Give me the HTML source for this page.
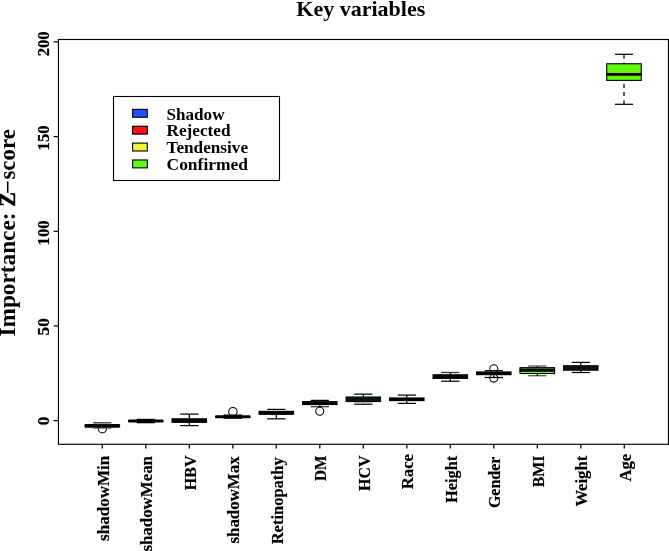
<!DOCTYPE html>
<html lang="en"><head><meta charset="utf-8"><title>Key variables</title>
<style>html,body{margin:0;padding:0;background:#fff}svg{display:block}</style></head>
<body>
<svg width="669" height="551" viewBox="0 0 669 551" font-family="'Liberation Serif', 'Times New Roman', Times, serif" font-weight="bold" fill="#000">
<rect x="0" y="0" width="669" height="551" fill="#fff"/>
<text x="360.8" y="15.5" font-size="22" text-anchor="middle">Key variables</text>
<text transform="translate(15.2,0) rotate(-90)" font-size="22.6"><tspan x="-336.5" textLength="124" lengthAdjust="spacingAndGlyphs">Importance:</tspan> <tspan x="-206.8" textLength="14.7" lengthAdjust="spacingAndGlyphs" stroke="#000" stroke-width="0.4">Z</tspan><tspan x="-194.05" textLength="14" lengthAdjust="spacingAndGlyphs">−</tspan><tspan x="-179.6" textLength="50.5" lengthAdjust="spacingAndGlyphs">score</tspan></text>
<rect x="58.45" y="39.5" width="610.0" height="404.8" fill="none" stroke="#000" stroke-width="1.15"/>
<line x1="53.6" x2="58.45" y1="420.6" y2="420.6" stroke="#000" stroke-width="1.2"/>
<text transform="translate(48.9,421.0) rotate(-90)" font-size="17.3" text-anchor="middle" textLength="8.6" lengthAdjust="spacingAndGlyphs" stroke="#000" stroke-width="0.25">0</text>
<line x1="53.6" x2="58.45" y1="325.9" y2="325.9" stroke="#000" stroke-width="1.2"/>
<text transform="translate(48.9,326.8) rotate(-90)" font-size="17.3" text-anchor="middle" textLength="17.2" lengthAdjust="spacingAndGlyphs" stroke="#000" stroke-width="0.25">50</text>
<line x1="53.6" x2="58.45" y1="231.3" y2="231.3" stroke="#000" stroke-width="1.2"/>
<text transform="translate(48.9,232.9) rotate(-90)" font-size="17.3" text-anchor="middle" textLength="25.0" lengthAdjust="spacingAndGlyphs" stroke="#000" stroke-width="0.25">100</text>
<line x1="53.6" x2="58.45" y1="136.6" y2="136.6" stroke="#000" stroke-width="1.2"/>
<text transform="translate(48.9,137.9) rotate(-90)" font-size="17.3" text-anchor="middle" textLength="25.0" lengthAdjust="spacingAndGlyphs" stroke="#000" stroke-width="0.25">150</text>
<line x1="53.6" x2="58.45" y1="41.9" y2="41.9" stroke="#000" stroke-width="1.2"/>
<text transform="translate(48.9,43.8) rotate(-90)" font-size="17.3" text-anchor="middle" textLength="25.0" lengthAdjust="spacingAndGlyphs" stroke="#000" stroke-width="0.25">200</text>
<line x1="102.3" x2="102.3" y1="444.3" y2="448.6" stroke="#000" stroke-width="1.25"/>
<text transform="translate(108.9,455.8) rotate(-90)" font-size="17.3" text-anchor="end" textLength="85.1" lengthAdjust="spacingAndGlyphs" stroke="#000" stroke-width="0.2">shadowMin</text>
<line x1="145.8" x2="145.8" y1="444.3" y2="448.6" stroke="#000" stroke-width="1.25"/>
<text transform="translate(152.4,456.0) rotate(-90)" font-size="17.3" text-anchor="end" textLength="95.6" lengthAdjust="spacingAndGlyphs" stroke="#000" stroke-width="0.2">shadowMean</text>
<line x1="189.3" x2="189.3" y1="444.3" y2="448.6" stroke="#000" stroke-width="1.25"/>
<text transform="translate(195.9,455.5) rotate(-90)" font-size="17.6" text-anchor="end" textLength="34.7" lengthAdjust="spacingAndGlyphs" stroke="#000" stroke-width="0.2">HBV</text>
<line x1="232.8" x2="232.8" y1="444.3" y2="448.6" stroke="#000" stroke-width="1.25"/>
<text transform="translate(239.4,456.4) rotate(-90)" font-size="17.3" text-anchor="end" textLength="87.1" lengthAdjust="spacingAndGlyphs" stroke="#000" stroke-width="0.2">shadowMax</text>
<line x1="276.3" x2="276.3" y1="444.3" y2="448.6" stroke="#000" stroke-width="1.25"/>
<text transform="translate(282.9,457.3) rotate(-90)" font-size="17.3" text-anchor="end" textLength="87.0" lengthAdjust="spacingAndGlyphs" stroke="#000" stroke-width="0.2">Retinopathy</text>
<line x1="319.8" x2="319.8" y1="444.3" y2="448.6" stroke="#000" stroke-width="1.25"/>
<text transform="translate(326.4,455.5) rotate(-90)" font-size="17.6" text-anchor="end" textLength="25.5" lengthAdjust="spacingAndGlyphs" stroke="#000" stroke-width="0.2">DM</text>
<line x1="363.3" x2="363.3" y1="444.3" y2="448.6" stroke="#000" stroke-width="1.25"/>
<text transform="translate(369.9,455.5) rotate(-90)" font-size="17.6" text-anchor="end" textLength="35.5" lengthAdjust="spacingAndGlyphs" stroke="#000" stroke-width="0.2">HCV</text>
<line x1="406.8" x2="406.8" y1="444.3" y2="448.6" stroke="#000" stroke-width="1.25"/>
<text transform="translate(413.4,454.0) rotate(-90)" font-size="17.3" text-anchor="end" textLength="35.2" lengthAdjust="spacingAndGlyphs" stroke="#000" stroke-width="0.2">Race</text>
<line x1="450.3" x2="450.3" y1="444.3" y2="448.6" stroke="#000" stroke-width="1.25"/>
<text transform="translate(456.9,455.8) rotate(-90)" font-size="17.3" text-anchor="end" textLength="47.3" lengthAdjust="spacingAndGlyphs" stroke="#000" stroke-width="0.2">Height</text>
<line x1="493.8" x2="493.8" y1="444.3" y2="448.6" stroke="#000" stroke-width="1.25"/>
<text transform="translate(500.4,456.7) rotate(-90)" font-size="17.3" text-anchor="end" textLength="51.4" lengthAdjust="spacingAndGlyphs" stroke="#000" stroke-width="0.2">Gender</text>
<line x1="537.3" x2="537.3" y1="444.3" y2="448.6" stroke="#000" stroke-width="1.25"/>
<text transform="translate(543.9,455.5) rotate(-90)" font-size="17.6" text-anchor="end" textLength="31.8" lengthAdjust="spacingAndGlyphs" stroke="#000" stroke-width="0.2">BMI</text>
<line x1="580.8" x2="580.8" y1="444.3" y2="448.6" stroke="#000" stroke-width="1.25"/>
<text transform="translate(587.4,455.8) rotate(-90)" font-size="17.3" text-anchor="end" textLength="50.8" lengthAdjust="spacingAndGlyphs" stroke="#000" stroke-width="0.2">Weight</text>
<line x1="624.3" x2="624.3" y1="444.3" y2="448.6" stroke="#000" stroke-width="1.25"/>
<text transform="translate(630.9,453.8) rotate(-90)" font-size="17.3" text-anchor="end" textLength="27.7" lengthAdjust="spacingAndGlyphs" stroke="#000" stroke-width="0.2">Age</text>
<rect x="113.5" y="96.5" width="166" height="84" fill="#fff" stroke="#000" stroke-width="1.1"/>
<rect x="132.6" y="109.35" width="14.7" height="7.9" fill="#1E50FF" stroke="#000" stroke-width="1.1"/>
<text x="166.5" y="119.55" font-size="17.7" textLength="58.0" lengthAdjust="spacingAndGlyphs">Shadow</text>
<rect x="132.6" y="126.22" width="14.7" height="7.9" fill="#FF0F19" stroke="#000" stroke-width="1.1"/>
<text x="166.5" y="136.42" font-size="17.7" textLength="64.0" lengthAdjust="spacingAndGlyphs">Rejected</text>
<rect x="132.6" y="143.09" width="14.7" height="7.9" fill="#F0F23C" stroke="#000" stroke-width="1.1"/>
<text x="166.5" y="153.29" font-size="17.7" textLength="81.6" lengthAdjust="spacingAndGlyphs">Tendensive</text>
<rect x="132.6" y="159.96" width="14.7" height="7.9" fill="#62FA10" stroke="#000" stroke-width="1.1"/>
<text x="166.5" y="170.16" font-size="17.7" textLength="81.6" lengthAdjust="spacingAndGlyphs">Confirmed</text>
<circle cx="102.4" cy="428.8" r="4.1" fill="none" stroke="#000" stroke-width="1.05"/>
<line x1="93.2" x2="111.4" y1="422.5" y2="422.5" stroke="#333" stroke-width="0.9"/>
<line x1="93.2" x2="111.4" y1="428.3" y2="428.3" stroke="#666" stroke-width="1.0"/>
<line x1="102.3" x2="102.3" y1="422.5" y2="424" stroke="#000" stroke-width="1.25" stroke-dasharray="4.1 4.1"/>
<rect x="84.5" y="424.00" width="35.6" height="3.70" rx="1.2" fill="#000"/>
<rect x="93.2" y="422.9" width="18.2" height="1.2" fill="#999"/>
<rect x="128.0" y="419.50" width="35.6" height="3.00" rx="1.2" fill="#000"/>
<rect x="136.7" y="418.80" width="18.2" height="4.50" rx="0" fill="#000"/>
<line x1="180.2" x2="198.4" y1="414.1" y2="414.1" stroke="#000" stroke-width="1.25"/>
<line x1="180.2" x2="198.4" y1="425.6" y2="425.6" stroke="#000" stroke-width="1.25"/>
<line x1="189.3" x2="189.3" y1="414.1" y2="418.2" stroke="#000" stroke-width="1.25" stroke-dasharray="4.1 4.1"/>
<line x1="189.3" x2="189.3" y1="425.6" y2="422.9" stroke="#000" stroke-width="1.25" stroke-dasharray="4.1 4.1"/>
<rect x="171.5" y="418.20" width="35.6" height="4.70" rx="0" fill="#000"/>
<circle cx="232.9" cy="411.7" r="4.2" fill="none" stroke="#000" stroke-width="1.05"/>
<rect x="215.0" y="415.20" width="35.6" height="3.00" rx="1.0" fill="#000"/>
<rect x="223.5" y="414.50" width="18.6" height="4.30" rx="0" fill="#000"/>
<line x1="267.2" x2="285.4" y1="409.4" y2="409.4" stroke="#000" stroke-width="1.25"/>
<line x1="267.2" x2="285.4" y1="418.8" y2="418.8" stroke="#000" stroke-width="1.25"/>
<line x1="276.3" x2="276.3" y1="418.8" y2="414.9" stroke="#000" stroke-width="1.25" stroke-dasharray="4.1 4.1"/>
<rect x="258.5" y="410.80" width="35.6" height="4.10" rx="0" fill="#000"/>
<circle cx="319.8" cy="411.2" r="4.0" fill="none" stroke="#000" stroke-width="1.05"/>
<line x1="310.7" x2="328.9" y1="400.4" y2="400.4" stroke="#000" stroke-width="1.25"/>
<line x1="310.7" x2="328.9" y1="406.7" y2="406.7" stroke="#333" stroke-width="1.25"/>
<line x1="319.8" x2="319.8" y1="406.7" y2="405.1" stroke="#000" stroke-width="1.25" stroke-dasharray="4.1 4.1"/>
<rect x="302.0" y="401.10" width="35.6" height="4.00" rx="0" fill="#000"/>
<line x1="354.2" x2="372.4" y1="394.15" y2="394.15" stroke="#000" stroke-width="1.25"/>
<line x1="354.2" x2="372.4" y1="404.2" y2="404.2" stroke="#000" stroke-width="1.25"/>
<line x1="363.3" x2="363.3" y1="394.15" y2="396.4" stroke="#000" stroke-width="1.25" stroke-dasharray="4.1 4.1"/>
<line x1="363.3" x2="363.3" y1="404.2" y2="402.1" stroke="#000" stroke-width="1.25" stroke-dasharray="4.1 4.1"/>
<rect x="345.5" y="396.40" width="35.6" height="5.70" rx="0" fill="#07160a"/>
<rect x="354.2" y="402.1" width="18.2" height="1.6" fill="#aaa"/>
<line x1="397.7" x2="415.9" y1="395.1" y2="395.1" stroke="#000" stroke-width="1.25"/>
<line x1="397.7" x2="415.9" y1="403.4" y2="403.4" stroke="#000" stroke-width="1.25"/>
<line x1="406.8" x2="406.8" y1="395.1" y2="397.4" stroke="#000" stroke-width="1.25" stroke-dasharray="4.1 4.1"/>
<line x1="406.8" x2="406.8" y1="403.4" y2="401.15" stroke="#000" stroke-width="1.25" stroke-dasharray="4.1 4.1"/>
<rect x="389.0" y="397.40" width="35.6" height="3.75" rx="0" fill="#000"/>
<line x1="441.2" x2="459.4" y1="372.5" y2="372.5" stroke="#333" stroke-width="1.25"/>
<line x1="441.2" x2="459.4" y1="381.2" y2="381.2" stroke="#000" stroke-width="1.25"/>
<line x1="450.3" x2="450.3" y1="372.5" y2="374.2" stroke="#000" stroke-width="1.25" stroke-dasharray="4.1 4.1"/>
<line x1="450.3" x2="450.3" y1="381.2" y2="378.95" stroke="#000" stroke-width="1.25" stroke-dasharray="4.1 4.1"/>
<rect x="432.5" y="374.20" width="35.6" height="4.75" rx="0" fill="#000"/>
<circle cx="493.8" cy="368.65" r="4.0" fill="none" stroke="#000" stroke-width="1.05"/>
<circle cx="493.8" cy="378.1" r="4.0" fill="none" stroke="#000" stroke-width="1.05"/>
<line x1="484.7" x2="502.9" y1="370.7" y2="370.7" stroke="#000" stroke-width="1.25"/>
<line x1="484.7" x2="502.9" y1="377.5" y2="377.5" stroke="#000" stroke-width="1.25"/>
<line x1="493.8" x2="493.8" y1="377.5" y2="375.2" stroke="#000" stroke-width="1.25" stroke-dasharray="4.1 4.1"/>
<rect x="476.0" y="371.40" width="35.6" height="3.80" rx="0" fill="#000"/>
<line x1="528.2" x2="546.4" y1="366.0" y2="366.0" stroke="#555" stroke-width="1.3"/>
<line x1="528.2" x2="546.4" y1="375.7" y2="375.7" stroke="#555" stroke-width="1.3"/>
<line x1="537.3" x2="537.3" y1="366.0" y2="367.1" stroke="#000" stroke-width="1.25" stroke-dasharray="4.1 4.1"/>
<line x1="537.3" x2="537.3" y1="375.7" y2="374.1" stroke="#000" stroke-width="1.25" stroke-dasharray="4.1 4.1"/>
<rect x="520.05" y="367.65" width="34.50" height="5.90" fill="#62FA10" stroke="#000" stroke-width="1.1"/>
<line x1="519.5" x2="555.1" y1="370.1" y2="370.1" stroke="#000" stroke-width="3.4"/>
<line x1="571.7" x2="589.9" y1="362.4" y2="362.4" stroke="#000" stroke-width="1.25"/>
<line x1="571.7" x2="589.9" y1="372.5" y2="372.5" stroke="#000" stroke-width="1.25"/>
<line x1="580.8" x2="580.8" y1="362.4" y2="365.1" stroke="#000" stroke-width="1.25" stroke-dasharray="4.1 4.1"/>
<line x1="580.8" x2="580.8" y1="372.5" y2="370.8" stroke="#000" stroke-width="1.25" stroke-dasharray="4.1 4.1"/>
<rect x="563.0" y="365.10" width="35.6" height="5.70" rx="0" fill="#07130a"/>
<line x1="614.9" x2="633.1" y1="54.3" y2="54.3" stroke="#000" stroke-width="1.25"/>
<line x1="614.9" x2="633.1" y1="104.3" y2="104.3" stroke="#000" stroke-width="1.25"/>
<line x1="624.0" x2="624.0" y1="54.3" y2="63.2" stroke="#000" stroke-width="1.25" stroke-dasharray="4.1 4.1"/>
<line x1="624.0" x2="624.0" y1="104.3" y2="80.95" stroke="#000" stroke-width="1.25" stroke-dasharray="4.1 4.1"/>
<rect x="606.75" y="63.75" width="34.50" height="16.65" fill="#62FA10" stroke="#000" stroke-width="1.1"/>
<line x1="606.2" x2="641.8" y1="74.4" y2="74.4" stroke="#000" stroke-width="2.9"/>
</svg>
</body></html>
